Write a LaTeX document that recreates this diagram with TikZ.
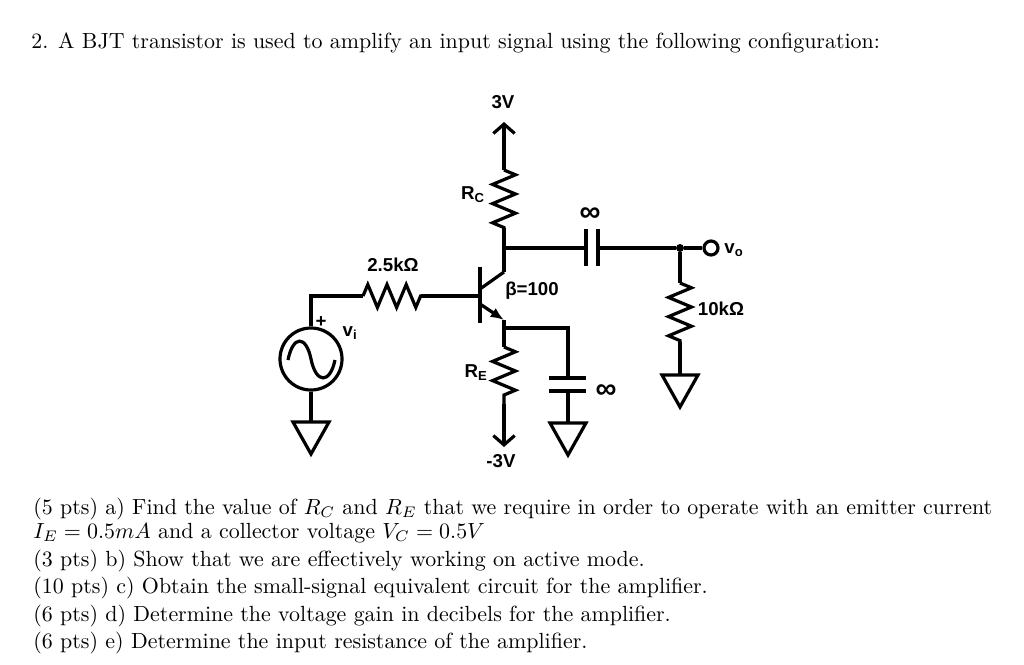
\documentclass[tikz,border=0pt]{standalone}
\usepackage{fontspec}
\usetikzlibrary{arrows.meta,decorations.pathmorphing}
\newfontfamily\labelfont{Liberation Sans}
\tikzset{
  wire/.style={line width=2.4pt,line join=miter},
  res/.style={line width=2.4pt,decorate,decoration={zigzag,segment length=14.4pt,amplitude=8.6pt}},
  rail/.style={line width=2.4pt,-{Straight Barb[length=7pt,width=16pt,line width=2.4pt]}},
  lab/.style={font=\labelfont\bfseries\fontsize{14}{16}\selectfont,inner sep=0pt},
  inf/.style={font=\labelfont\bfseries\fontsize{22}{22}\selectfont,inner sep=0pt},
  txt/.style={anchor=base west,inner sep=0pt,font=\fontsize{10}{12}\selectfont,scale=1.645},
}
\begin{document}
\begin{tikzpicture}[x=0.75pt,y=-0.75pt]
  \useasboundingbox (0,0) rectangle (1024,664);
  % Question text
  \node[txt] (title) at (31,48) {2. A BJT transistor is used to amplify an input signal using the following configuration:};
  \node[txt] (parta) at (33,514) {(5 pts) a) Find the value of $R_C$ and $R_E$ that we require in order to operate with an emitter current};
  \node[txt] (partb) at (33,538) {$I_E=0.5mA$ and a collector voltage $V_C=0.5V$};
  \node[txt] (partc) at (33,566) {(3 pts) b) Show that we are effectively working on active mode.};
  \node[txt] (partd) at (33,593) {(10 pts) c) Obtain the small-signal equivalent circuit for the amplifier.};
  \node[txt] (parte) at (33,621) {(6 pts) d) Determine the voltage gain in decibels for the amplifier.};
  \node[txt] (partf) at (33,648) {(6 pts) e) Determine the input resistance of the amplifier.};
  % Source side
  \node[circle,draw,line width=2.4pt,minimum size=46.5pt,inner sep=0pt] (vs) at (311,359) {};
  \draw[wire] (288,360) .. controls (293,335) and (306,335) .. (311,359) .. controls (316,384) and (330,384) .. (335,360);
  \coordinate (vscorner) at (311,296);
  \coordinate (rbl) at (363,296);
  \coordinate (rbr) at (421,296);
  \coordinate (base) at (480,296);
  \coordinate (gnda) at (311,422);
  \draw[wire] (vs.north) -- (vscorner) -- (rbl);
  \draw[res] (rbl) -- (rbr);
  \draw[wire] (rbr) -- (base);
  \draw[wire] (vs.south) -- (gnda);
  \draw[wire] (gnda) -- ++(-18,0) -- ++(18,32) -- ++(18,-32) -- cycle;
  % Transistor
  \coordinate (bart) at (480,267);
  \coordinate (barb) at (480,323);
  \coordinate (col) at (504,272);
  \coordinate (emi) at (504,320);
  \draw[wire] (bart) -- (barb);
  \draw[wire] (480,289) -- (col);
  \draw[wire,-{Latex[length=10pt,width=8pt]}] (480,304) -- (emi);
  % Collector branch
  \coordinate (vcc) at (504,122);
  \coordinate (rct) at (504,170);
  \coordinate (rcb) at (504,228);
  \coordinate (cnode) at (504,248);
  \draw[rail] (rct) -- (vcc);
  \draw[res] (rct) -- (rcb);
  \draw[wire] (rcb) -- (col);
  % Emitter branch
  \coordinate (enode) at (504,328);
  \coordinate (ret) at (504,347);
  \coordinate (reb) at (504,404);
  \coordinate (vee) at (504,447);
  \draw[wire] (emi) -- (ret);
  \draw[res] (ret) -- (reb);
  \draw[rail] (reb) -- (vee);
  % Emitter bypass capacitor
  \coordinate (ecorner) at (568,328);
  \coordinate (cet) at (568,378);
  \coordinate (ceb) at (568,391);
  \coordinate (gndb) at (568,423);
  \draw[wire] (enode) -- (ecorner) -- (cet);
  \draw[wire] (549,378) -- (586,378);
  \draw[wire] (549,391) -- (586,391);
  \draw[wire] (ceb) -- (gndb);
  \draw[wire] (gndb) -- ++(-18,0) -- ++(18,32) -- ++(18,-32) -- cycle;
  % Output
  \coordinate (cl) at (586,248);
  \coordinate (cr) at (598,248);
  \node[circle,fill=black,minimum size=6pt,inner sep=0pt] (onode) at (680,248) {};
  \node[circle,draw,line width=2.4pt,minimum size=10.5pt,inner sep=0pt] (vout) at (711,248) {};
  \coordinate (rlt) at (680,283);
  \coordinate (rlb) at (680,342);
  \coordinate (gndc) at (680,375);
  \draw[wire] (cnode) -- (cl);
  \draw[wire] (586,229) -- (586,266);
  \draw[wire] (598,229) -- (598,266);
  \draw[wire] (cr) -- (onode) -- (vout);
  \draw[wire] (onode) -- (rlt);
  \draw[res] (rlt) -- (rlb);
  \draw[wire] (rlb) -- (gndc);
  \draw[wire] (gndc) -- ++(-18,0) -- ++(18,32) -- ++(18,-32) -- cycle;
  % Labels
  \node[lab] (lvcc) at (503,102) {3V};
  \node[lab] (lvee) at (501,461) {-3V};
  \node[lab] (lrc) at (473,195) {R\textsubscript{C}};
  \node[lab] (lre) at (476,373) {R\textsubscript{E}};
  \node[lab] (lrb) at (393,265) {2.5kΩ};
  \node[lab] (lbeta) at (532,291) {β=100};
  \node[lab] (lrl) at (721,309) {10kΩ};
  \node[lab] (lvi) at (350,333) {v\textsubscript{i}};
  \node[lab] (lplus) at (321,322) {+};
  \node[lab] (lvo) at (734,250) {v\textsubscript{o}};
  \node[inf] (lca) at (590,215) {∞};
  \node[inf] (lcb) at (606,392) {∞};
\end{tikzpicture}
\end{document}
